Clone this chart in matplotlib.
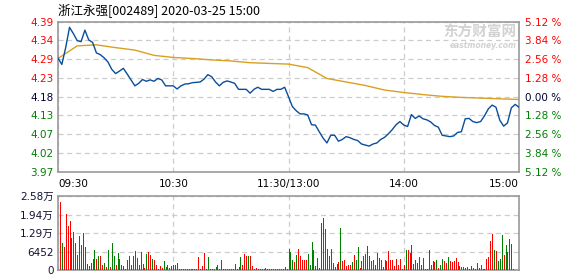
import numpy as np
import matplotlib
matplotlib.use('Agg')
import matplotlib.pyplot as plt

plt.rcParams['font.family'] = ['DejaVu Sans', 'Noto Sans CJK SC']

# 基本数据
title = '浙江永强[002489] 2020-03-25 15:00'
pre_close = 4.18
max_pct = 5.12
time_labels = ['09:30', '10:30', '11:30/13:00', '14:00', '15:00']

# 分时价格 (每2分钟)
price = [4.290, 4.272, 4.320, 4.378, 4.360, 4.340, 4.337, 4.370, 4.342, 4.335,
         4.305, 4.300, 4.291, 4.279, 4.258, 4.246, 4.253, 4.261, 4.245, 4.228,
         4.211, 4.218, 4.229, 4.224, 4.228, 4.224, 4.232, 4.228, 4.211, 4.211,
         4.211, 4.202, 4.211, 4.216, 4.217, 4.220, 4.221, 4.222, 4.230, 4.243,
         4.237, 4.222, 4.211, 4.221, 4.225, 4.222, 4.218, 4.201, 4.201, 4.201,
         4.190, 4.201, 4.207, 4.201, 4.201, 4.201, 4.195, 4.201, 4.201, 4.207,
         4.180, 4.152, 4.140, 4.131, 4.131, 4.128, 4.100, 4.099, 4.080, 4.062,
         4.048, 4.070, 4.070, 4.053, 4.058, 4.066, 4.063, 4.058, 4.055, 4.045,
         4.042, 4.039, 4.045, 4.048, 4.058, 4.064, 4.074, 4.086, 4.100, 4.109,
         4.099, 4.095, 4.129, 4.118, 4.125, 4.117, 4.114, 4.108, 4.098, 4.093,
         4.070, 4.068, 4.066, 4.068, 4.078, 4.080, 4.117, 4.118, 4.109, 4.106,
         4.109, 4.125, 4.145, 4.156, 4.150, 4.113, 4.096, 4.105, 4.148, 4.158,
         4.150]

# 均价 (每10分钟)
avg_price = [4.289, 4.325, 4.328, 4.320, 4.313, 4.298, 4.292, 4.289, 4.285, 4.282,
             4.277, 4.275, 4.273, 4.263, 4.232, 4.222, 4.212, 4.199, 4.192, 4.186,
             4.181, 4.178, 4.176, 4.174, 4.172]

# 成交量 (每分钟)
volume = [23800, 9500, 8100, 19700, 15300, 17100, 11300, 13400, 9500, 5200,
          11900, 8700, 12900, 8100, 2100, 1400, 2400, 3800, 7000, 3800,
          4900, 4900, 1700, 2400, 1000, 7000, 1000, 9500, 4900, 1700,
          5900, 3800, 1700, 1400, 350, 3500, 4900, 1700, 4900, 6600,
          4200, 1700, 6300, 2100, 700, 5600, 6300, 5200, 3800, 3500,
          1700, 350, 1400, 700, 3100, 1000, 1700, 700, 1400, 1700,
          1700, 2400, 350, 350, 350, 350, 350, 350, 350, 350,
          350, 350, 4530, 350, 1390, 5930, 350, 4530, 350, 350,
          350, 1050, 1740, 350, 3490, 350, 350, 350, 350, 350,
          350, 2090, 350, 1050, 4530, 1740, 5580, 4880, 4880, 4880,
          1390, 350, 700, 350, 350, 350, 350, 700, 350, 350,
          350, 350, 350, 350, 350, 350, 350, 1050, 350, 7320,
          6160, 3490, 2900, 5230, 7320, 4880, 3490, 3490, 3490, 5460,
          1740, 9880, 6970, 1390, 4180, 700, 16420, 18160, 14310, 7320,
          4880, 7320, 2440, 1050, 2090, 2790, 14640, 3140, 3490, 1390,
          1740, 1740, 2790, 5230, 3490, 8020, 700, 3140, 4880, 5580,
          8370, 4880, 3140, 3490, 1740, 5930, 4180, 3490, 1050, 3490,
          3140, 6620, 3490, 3490, 1390, 3830, 1740, 3830, 350, 1740,
          6970, 6970, 5930, 8720, 2090, 3490, 2440, 4530, 1740, 4180,
          350, 350, 6970, 1740, 3140, 2790, 3490, 700, 1740, 3830,
          3140, 2440, 4530, 3140, 2790, 3140, 4180, 2790, 1390, 1050,
          1050, 700, 1050, 350, 1390, 700, 350, 2440, 700, 1740,
          350, 350, 3830, 4530, 10110, 12550, 6970, 6620, 3140, 3830,
          12200, 5230, 8720, 6270, 10800, 9060, 350, 0, 0, 10800]
# r=涨 g=跌
vol_dir = ('rgrrrrgrgg' 'grrrggrggr' 'grrgrgrggr' 'grrrrgrggr' 'rrrgrgrrgr'
           'rrrrggrrrr' 'rgrrrrrrrr' 'rrrgrrrggg' 'rgrgrrrrrr' 'rgrggrrrgr'
           'rrrrrrrrgr' 'rrrrrrrrgg'
           'ggrgrrrrrg' 'ggrrrrgrgg' 'rrggrrgrrr' 'rrgrggrrgr' 'grrrrrgrrr'
           'rrrrrrrrgr' 'grrrgrgrgr' 'rrgrgrgrgg' 'rrgrrrrrrr' 'rrrggrgrrr'
           'rrrrrrgrgg' 'grgrrrrrrg')
vol_max = 25806

RED = '#ff0000'
GREEN = '#008000'
DARK = '#000033'
W, H = 578, 276

fig = plt.figure(figsize=(W / 100, H / 100), dpi=100)

def frame(ax):
    for s in ax.spines.values():
        s.set_color('#999999')
        s.set_linewidth(1.2)
    ax.grid(True, linestyle=(0, (4, 3)), color='#cccccc', linewidth=0.9)
    ax.tick_params(length=0)
    ax.set_xlim(0, 240)
    ax.set_xticks([0, 60, 120, 180, 240])

def pick_color(v, ref):
    if abs(v - ref) < 1e-9:
        return DARK
    return RED if v > ref else GREEN

# 分时图
ax = fig.add_axes([58 / W, 1 - 171.7 / H, 461 / W, 150 / H])
frame(ax)
pcts = np.linspace(-max_pct, max_pct, 9)
yt = pre_close * (1 + pcts / 100)
ax.set_ylim(yt[0], yt[-1])
ax.set_yticks(yt)
ax.set_yticklabels([f'{v:.2f}' for v in yt], fontsize=7.5)
for lab, p in zip(ax.get_yticklabels(), pcts):
    lab.set_color(pick_color(p, 0))
ax.tick_params(axis='y', pad=3)
ax.set_xticklabels(time_labels, fontsize=7.5)
ax.tick_params(axis='x', pad=5)
xl = ax.get_xticklabels()
xl[0].set_ha('left')
xl[-1].set_ha('right')

ax.plot(np.arange(0, 241, 2), price, color='#0a4d9c', lw=1.0, zorder=3)
ax.plot(np.arange(0, 241, 10), avg_price, color='#daa020', lw=1.0, zorder=2)

ax2 = ax.twinx()
ax2.set_ylim(ax.get_ylim())
ax2.set_yticks(yt)
ax2.set_yticklabels([f'{abs(p):.2f} %' for p in pcts], fontsize=7.5)
for lab, p in zip(ax2.get_yticklabels(), pcts):
    lab.set_color(pick_color(p, 0))
ax2.tick_params(length=0, pad=4)
for s in ax2.spines.values():
    s.set_visible(False)

ax.text(0.0, 1.08, title, transform=ax.transAxes, fontsize=9,
        family=['Noto Sans CJK SC', 'DejaVu Sans'], ha='left', va='center')

# 水印
ax.text(0.995, 0.93, '东方财富网', transform=ax.transAxes, fontsize=10.5,
        family=['Noto Sans CJK SC'], fontweight='bold', color='#d2d2d2',
        ha='right', va='center', zorder=1)
ax.text(0.995, 0.84, 'eastmoney.com', transform=ax.transAxes, fontsize=5.5,
        fontweight='bold', style='italic', color='#d2d2d2',
        ha='right', va='center', zorder=1)

# 成交量
vax = fig.add_axes([58 / W, 1 - 270 / H, 461 / W, 74 / H])
frame(vax)
vax.set_xticklabels([])
vt = np.linspace(0, vol_max, 5)
vax.set_ylim(0, vol_max)
vax.set_yticks(vt)
vlabels = []
for v in vt:
    if v == 0:
        vlabels.append('0')
    elif v >= 10000:
        vlabels.append(f'{v / 10000:.2f}万')
    else:
        vlabels.append(f'{v:.0f}')
vax.set_yticklabels(vlabels, fontsize=7.5, color='#111133')
vax.tick_params(axis='y', pad=3)
vcolors = [RED if c == 'r' else GREEN for c in vol_dir]
vax.vlines(np.arange(1, 241), 0, volume, colors=vcolors, linewidth=0.72,
           antialiased=False, zorder=3)

fig.savefig('out.png', dpi=100)
